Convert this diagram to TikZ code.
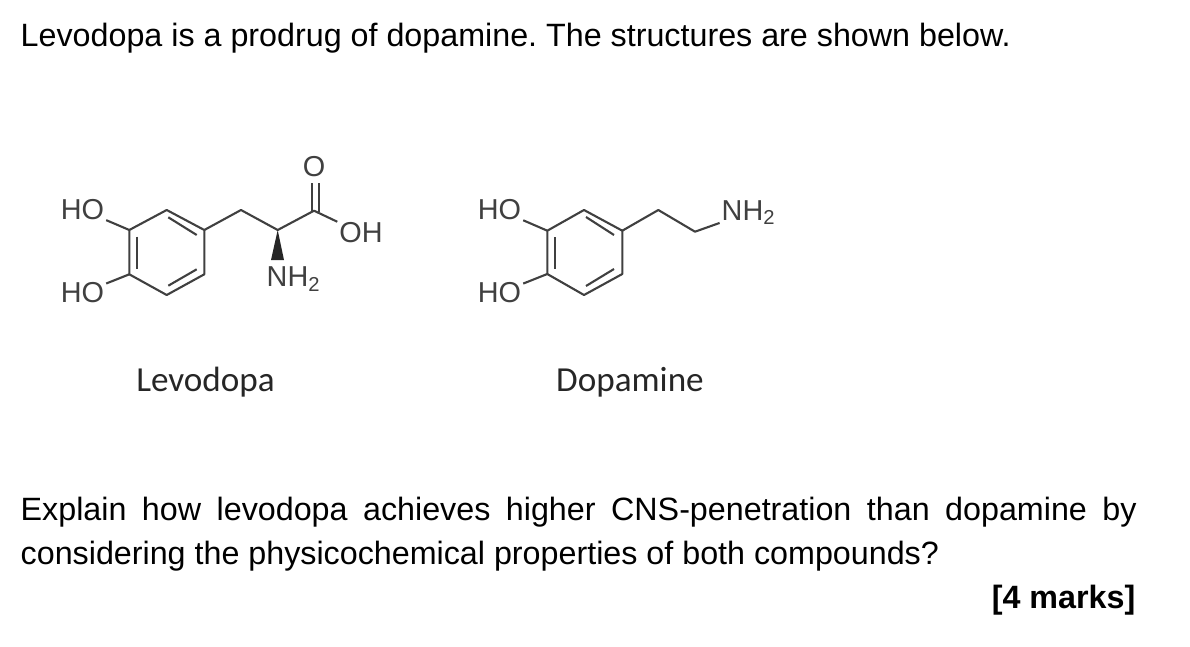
\documentclass[tikz,border=0pt]{standalone}
\usepackage{fontspec}
\setmainfont{Liberation Sans}
\newfontfamily\capfont{Carlito}
\usepackage{tikz}
\tikzset{
  bond/.style={line width=.21mm,draw=black!75},
  atom/.style={inner sep=.4pt,text=black!75,font=\fontsize{8.2}{9}\selectfont},
  para/.style={inner sep=0pt,anchor=base west,font=\fontsize{9.18}{12.5}\selectfont\frenchspacing},
  caption/.style={inner sep=0pt,text=black!85,font=\capfont\fontsize{10}{11}\selectfont}
}

\begin{document}
\begin{tikzpicture}
        \useasboundingbox (0,0) rectangle (11.9,6.46);

        % question text
        \node[para] (intro) at (.2,5.99) {Levodopa is a prodrug of dopamine. The structures are shown below.};
        \node[para,anchor=north west,text width=11.16cm,align=justify] (ask) at (.2,1.5) {Explain how levodopa achieves higher CNS-penetration than dopamine by\linebreak considering the physicochemical properties of both compounds?};
        \node[para,anchor=base east] (marks) at (11.36,.38) {\bfseries [4 marks]};

        % levodopa ring
        \coordinate (La) at (1.667,4.36);
        \coordinate (Lb) at (2.043,4.16);
        \coordinate (Lc) at (2.043,3.717);
        \coordinate (Ld) at (1.667,3.51);
        \coordinate (Le) at (1.293,3.717);
        \coordinate (Lf) at (1.293,4.16);
        \draw[bond,line join=round] (La) -- (Lb) -- (Lc) -- (Ld) -- (Le) -- (Lf) -- cycle;
        \draw[bond] (1.683,4.287) -- (1.967,4.11);
        \draw[bond] (1.683,3.603) -- (1.967,3.767);
        \draw[bond] (1.367,4.093) -- (1.367,3.767);

        % levodopa side chain
        \coordinate (Lg) at (2.41,4.36);
        \coordinate (Lh) at (2.777,4.16);
        \coordinate (Li) at (3.14,4.353);
        \coordinate (Lwa) at (2.71,3.86);
        \coordinate (Lwb) at (2.84,3.86);
        \coordinate (Lca) at (3.117,4.34);
        \coordinate (Lcb) at (3.117,4.63);
        \coordinate (Lcc) at (3.193,4.34);
        \coordinate (Lcd) at (3.193,4.63);
        \node[atom] (oxo) at (3.14,4.79) {O};
        \node[atom] (oh) at (3.61,4.13) {OH};
        \node[atom] (nha) at (2.94,3.67) {NH\textsubscript{2}};
        \node[atom] (hoa) at (.825,4.36) {HO};
        \node[atom] (hob) at (.825,3.53) {HO};
        \draw[bond,line join=round] (Lb) -- (Lg) -- (Lh) -- (Li) -- (oh);
        \draw[bond] (Lca) -- (Lcb);
        \draw[bond] (Lcc) -- (Lcd);
        \fill[black!85] (Lh) -- (Lwa) -- (Lwb) -- cycle;
        \draw[bond] (Lf) -- (hoa);
        \draw[bond] (Le) -- (hob);
        \node[caption] (levo) at (2.055,2.64) {Levodopa};

        % dopamine ring
        \coordinate (Da) at (5.84,4.36);
        \coordinate (Db) at (6.223,4.153);
        \coordinate (Dc) at (6.223,3.72);
        \coordinate (Dd) at (5.84,3.51);
        \coordinate (De) at (5.473,3.72);
        \coordinate (Df) at (5.473,4.153);
        \draw[bond,line join=round] (Da) -- (Db) -- (Dc) -- (Dd) -- (De) -- (Df) -- cycle;
        \draw[bond] (5.86,4.29) -- (6.14,4.11);
        \draw[bond] (5.86,3.6) -- (6.14,3.77);
        \draw[bond] (5.55,4.09) -- (5.55,3.77);

        % dopamine side chain
        \coordinate (Dg) at (6.583,4.36);
        \coordinate (Dh) at (6.95,4.143);
        \node[atom] (nhb) at (7.49,4.335) {NH\textsubscript{2}};
        \node[atom] (hoc) at (4.995,4.36) {HO};
        \node[atom] (hod) at (4.995,3.53) {HO};
        \draw[bond,line join=round] (Db) -- (Dg) -- (Dh) -- (nhb);
        \draw[bond] (Df) -- (hoc);
        \draw[bond] (De) -- (hod);
        \node[caption] (dopa) at (6.3,2.64) {Dopamine};
    \end{tikzpicture}
\end{document}
